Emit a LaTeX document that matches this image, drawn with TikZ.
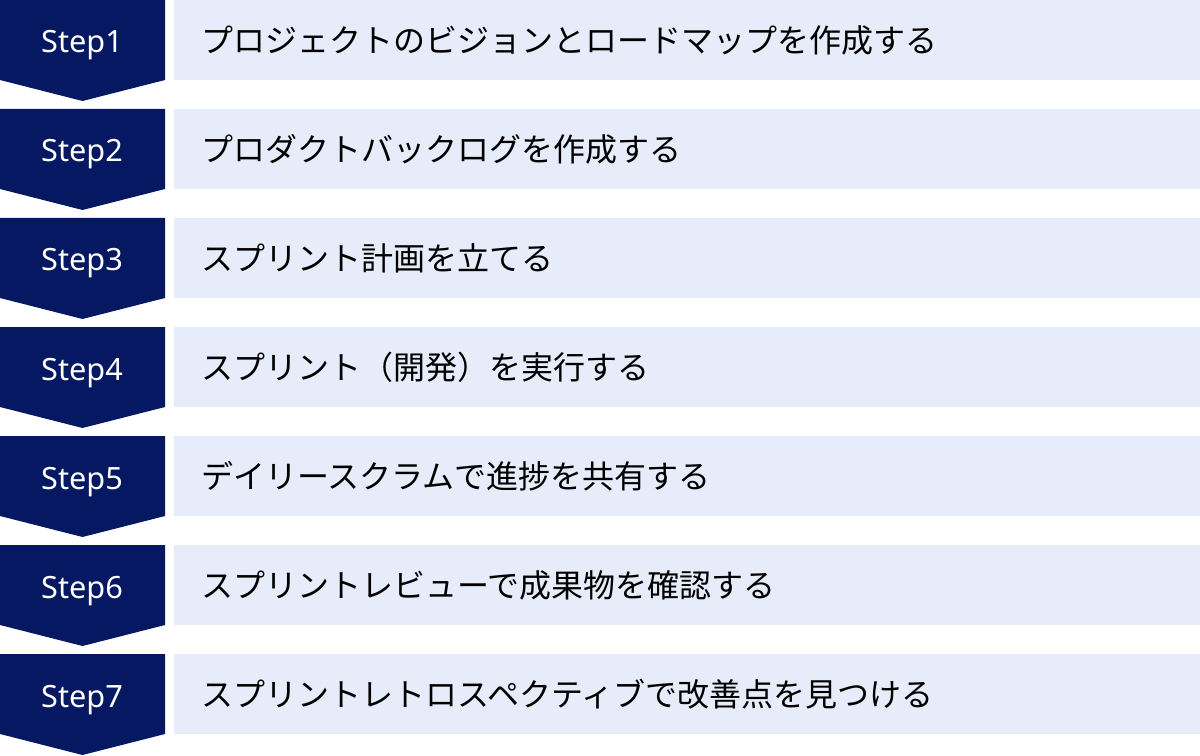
\documentclass[tikz,border=0pt]{standalone}
\usepackage{fontspec}
\setmainfont{Noto Sans}
\newfontfamily\jpfont{Noto Sans CJK JP}
\usepackage{tikz}
\usetikzlibrary{positioning}
\definecolor{stepnavy}{HTML}{051861}
\definecolor{tasklight}{HTML}{E6ECF9}

\begin{document}
\begin{tikzpicture}[x=0.75pt,y=-0.75pt,
  steplabel/.style={text=white,font=\fontsize{23}{26}\selectfont,inner sep=0pt,anchor=base},
  tasklabel/.style={text=black,font=\jpfont\fontsize{24}{28}\selectfont,inner sep=0pt,anchor=west}]
  \useasboundingbox (0,0) rectangle (1200,756);
  \foreach \i/\txt in {1/プロジェクトのビジョンとロードマップを作成する,
                       2/プロダクトバックログを作成する,
                       3/スプリント計画を立てる,
                       4/スプリント（開発）を実行する,
                       5/デイリースクラムで進捗を共有する,
                       6/スプリントレビューで成果物を確認する,
                       7/スプリントレトロスペクティブで改善点を見つける}{
    \pgfmathsetmacro{\top}{(\i-1)*109}
    \fill[stepnavy] (0,\top)--(165,\top)--(165,\top+80)--(82.5,\top+101)--(0,\top+80)--cycle;
    \fill[tasklight] (174,\top) rectangle (1200,\top+80);
    \node[steplabel] (step\i) at (82,\top+53) {Step\i};
    \node[tasklabel] (task\i) at (201,\top+40) {\txt};
  }
\end{tikzpicture}
\end{document}
